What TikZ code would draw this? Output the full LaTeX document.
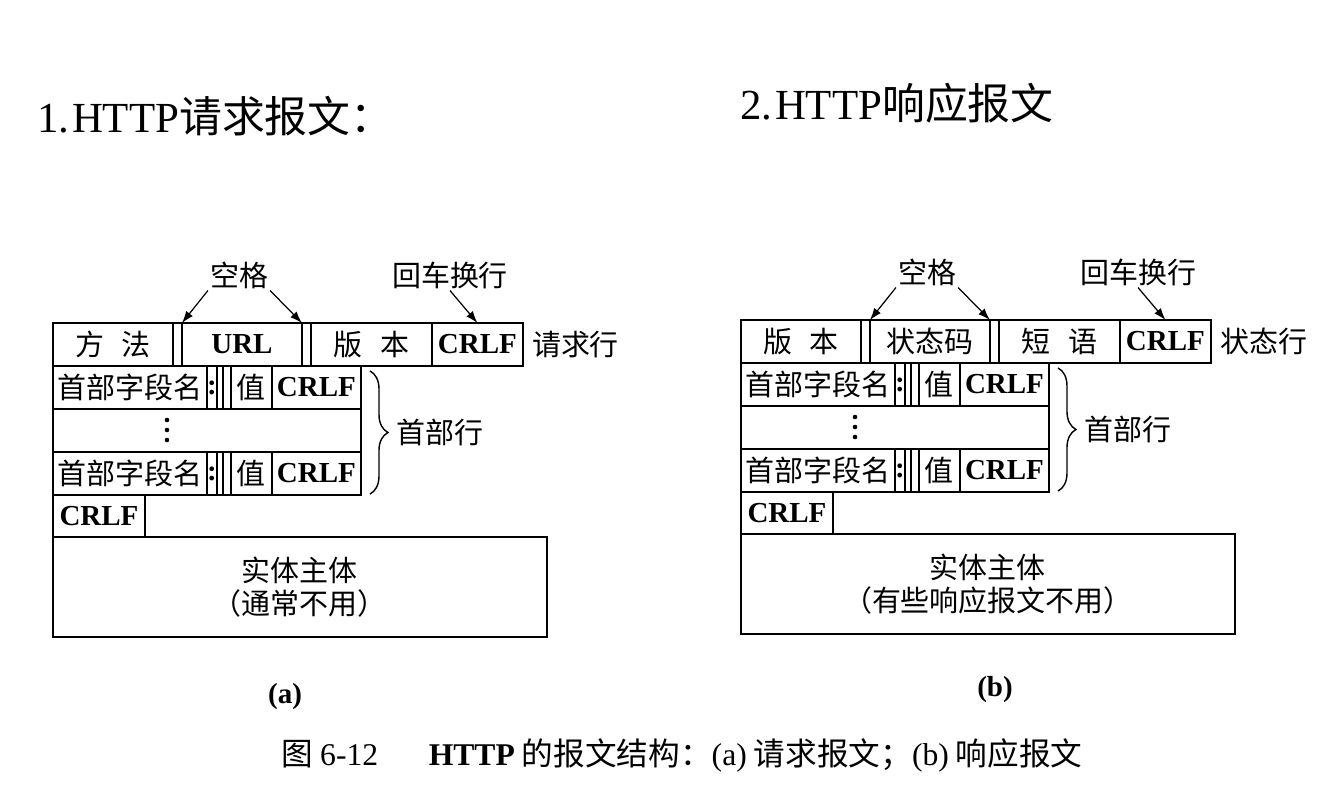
\documentclass[tikz,border=0pt]{standalone}
\usepackage{fontspec}
\setmainfont{Liberation Serif}
\newfontfamily\zhfont{Noto Sans CJK SC}
\usetikzlibrary{positioning,arrows.meta,decorations.pathreplacing}

\begin{document}
\begin{tikzpicture}[x=0.02cm,y=-0.02cm,
  every node/.style={font=\zhfont\fontsize{16.5}{18.5}\selectfont},
  cell/.style={draw, line width=0.9pt, inner sep=0pt, outer sep=0pt, anchor=north west, minimum height=0.86cm},
  latin/.style={font=\rmfamily\bfseries\fontsize{16.5}{18}\selectfont},
  tag/.style={inner sep=1pt},
  pointer/.style={-{Latex[length=2.4mm,width=1.7mm]}, line width=0.7pt},
  hbrace/.style={decorate, decoration={brace, amplitude=0.36cm}, line width=0.8pt},
  title/.style={anchor=west, inner sep=0pt, font=\zhfont\fontsize{24.4}{28}\selectfont}]
\useasboundingbox (0,0) rectangle (1338,797);

% titles
\node[title] (t1) at (37,116) {{\rmfamily 1.\hspace{0.06em}HTTP}请求报文：};
\node[title] (t2) at (740,103) {{\rmfamily 2.\hspace{0.06em}HTTP}响应报文};

% (a) request message
\node[cell, minimum width=2.4cm] (am) at (53,323) {方\hspace{0.6em}法};
\node[cell, minimum width=0.18cm, right=0pt of am] (asp1) {};
\node[cell, latin, minimum width=2.4cm, right=0pt of asp1] (aurl) {URL};
\node[cell, minimum width=0.18cm, right=0pt of aurl] (asp2) {};
\node[cell, minimum width=2.42cm, right=0pt of asp2] (aver) {版\hspace{0.6em}本};
\node[cell, latin, minimum width=1.82cm, right=0pt of aver] (acrlf) {CRLF};
\node[tag, right=0.14cm of acrlf] (areq) {请求行};
\node[tag] (agap) at (239,275) {空格};
\node[tag] (acr) at (450,275) {回车换行};
\draw[pointer] (agap.south west) -- (asp1.north east);
\draw[pointer] (agap.south east) -- (asp2.north west);
\draw[pointer] (acr.south) -- (acrlf.north);

\node[cell, minimum width=3.08cm] (ahn1) at (53,366) {首部字段名};
\node[cell, latin, minimum width=0.2cm, right=0pt of ahn1] (ahc1) {:};
\node[cell, minimum width=0.12cm, right=0pt of ahc1] (ahs1) {};
\node[cell, minimum width=0.16cm, right=0pt of ahs1] (aht1) {};
\node[cell, minimum width=0.82cm, right=0pt of aht1] (ahv1) {值};
\node[cell, latin, minimum width=1.78cm, right=0pt of ahv1] (ahe1) {CRLF};
\node[cell, minimum width=6.16cm] (arow) at (ahn1.south west) {};
\foreach \d in {420,430,440} \fill (167,\d) circle (2.3);
\node[cell, minimum width=3.08cm] (ahn2) at (arow.south west) {首部字段名};
\node[cell, latin, minimum width=0.2cm, right=0pt of ahn2] (ahc2) {:};
\node[cell, minimum width=0.12cm, right=0pt of ahc2] (ahs2) {};
\node[cell, minimum width=0.16cm, right=0pt of ahs2] (aht2) {};
\node[cell, minimum width=0.82cm, right=0pt of aht2] (ahv2) {值};
\node[cell, latin, minimum width=1.78cm, right=0pt of ahv2] (ahe2) {CRLF};
\draw[hbrace] (370,371) -- (370,494);
\node[tag, anchor=west] (ahead) at (394,432) {首部行};
\node[cell, latin, minimum width=1.84cm, minimum height=0.84cm] (aend) at (ahn2.south west) {CRLF};
\node[cell, align=center, minimum width=9.88cm, minimum height=2.0cm] (abody) at (aend.south west) {实体主体\\（通常不用）};
\node[latin] (alab) at (285,697) {(a)};

% (b) response message
\begin{scope}[shift={(688,-3)}]
\node[cell, minimum width=2.4cm] (bm) at (53,323) {版\hspace{0.6em}本};
\node[cell, minimum width=0.18cm, right=0pt of bm] (bsp1) {};
\node[cell, minimum width=2.4cm, right=0pt of bsp1] (bcode) {状态码};
\node[cell, minimum width=0.18cm, right=0pt of bcode] (bsp2) {};
\node[cell, minimum width=2.42cm, right=0pt of bsp2] (bphr) {短\hspace{0.6em}语};
\node[cell, latin, minimum width=1.82cm, right=0pt of bphr] (bcrlf) {CRLF};
\node[tag, right=0.14cm of bcrlf] (bstat) {状态行};
\node[tag] (bgap) at (239,275) {空格};
\node[tag] (bcr) at (450,275) {回车换行};
\draw[pointer] (bgap.south west) -- (bsp1.north east);
\draw[pointer] (bgap.south east) -- (bsp2.north west);
\draw[pointer] (bcr.south) -- (bcrlf.north);

\node[cell, minimum width=3.08cm] (bhn1) at (53,366) {首部字段名};
\node[cell, latin, minimum width=0.2cm, right=0pt of bhn1] (bhc1) {:};
\node[cell, minimum width=0.12cm, right=0pt of bhc1] (bhs1) {};
\node[cell, minimum width=0.16cm, right=0pt of bhs1] (bht1) {};
\node[cell, minimum width=0.82cm, right=0pt of bht1] (bhv1) {值};
\node[cell, latin, minimum width=1.78cm, right=0pt of bhv1] (bhe1) {CRLF};
\node[cell, minimum width=6.16cm] (brow) at (bhn1.south west) {};
\foreach \d in {420,430,440} \fill (167,\d) circle (2.3);
\node[cell, minimum width=3.08cm] (bhn2) at (brow.south west) {首部字段名};
\node[cell, latin, minimum width=0.2cm, right=0pt of bhn2] (bhc2) {:};
\node[cell, minimum width=0.12cm, right=0pt of bhc2] (bhs2) {};
\node[cell, minimum width=0.16cm, right=0pt of bhs2] (bht2) {};
\node[cell, minimum width=0.82cm, right=0pt of bht2] (bhv2) {值};
\node[cell, latin, minimum width=1.78cm, right=0pt of bhv2] (bhe2) {CRLF};
\draw[hbrace] (370,371) -- (370,494);
\node[tag, anchor=west] (bhead) at (394,432) {首部行};
\node[cell, latin, minimum width=1.84cm, minimum height=0.84cm] (bend) at (bhn2.south west) {CRLF};
\node[cell, align=center, minimum width=9.88cm, minimum height=2.0cm] (bbody) at (bend.south west) {实体主体\\（有些响应报文不用）};
\node[latin] (blab) at (307,693) {(b)};
\end{scope}

% caption
\node[font=\zhfont\fontsize{18}{20}\selectfont] (cap) at (682,755) {图 {\rmfamily 6-12}\hspace{1.6em}{\rmfamily\bfseries HTTP} 的报文结构：{\rmfamily (a)} 请求报文；{\rmfamily (b)} 响应报文};
\end{tikzpicture}
\end{document}
